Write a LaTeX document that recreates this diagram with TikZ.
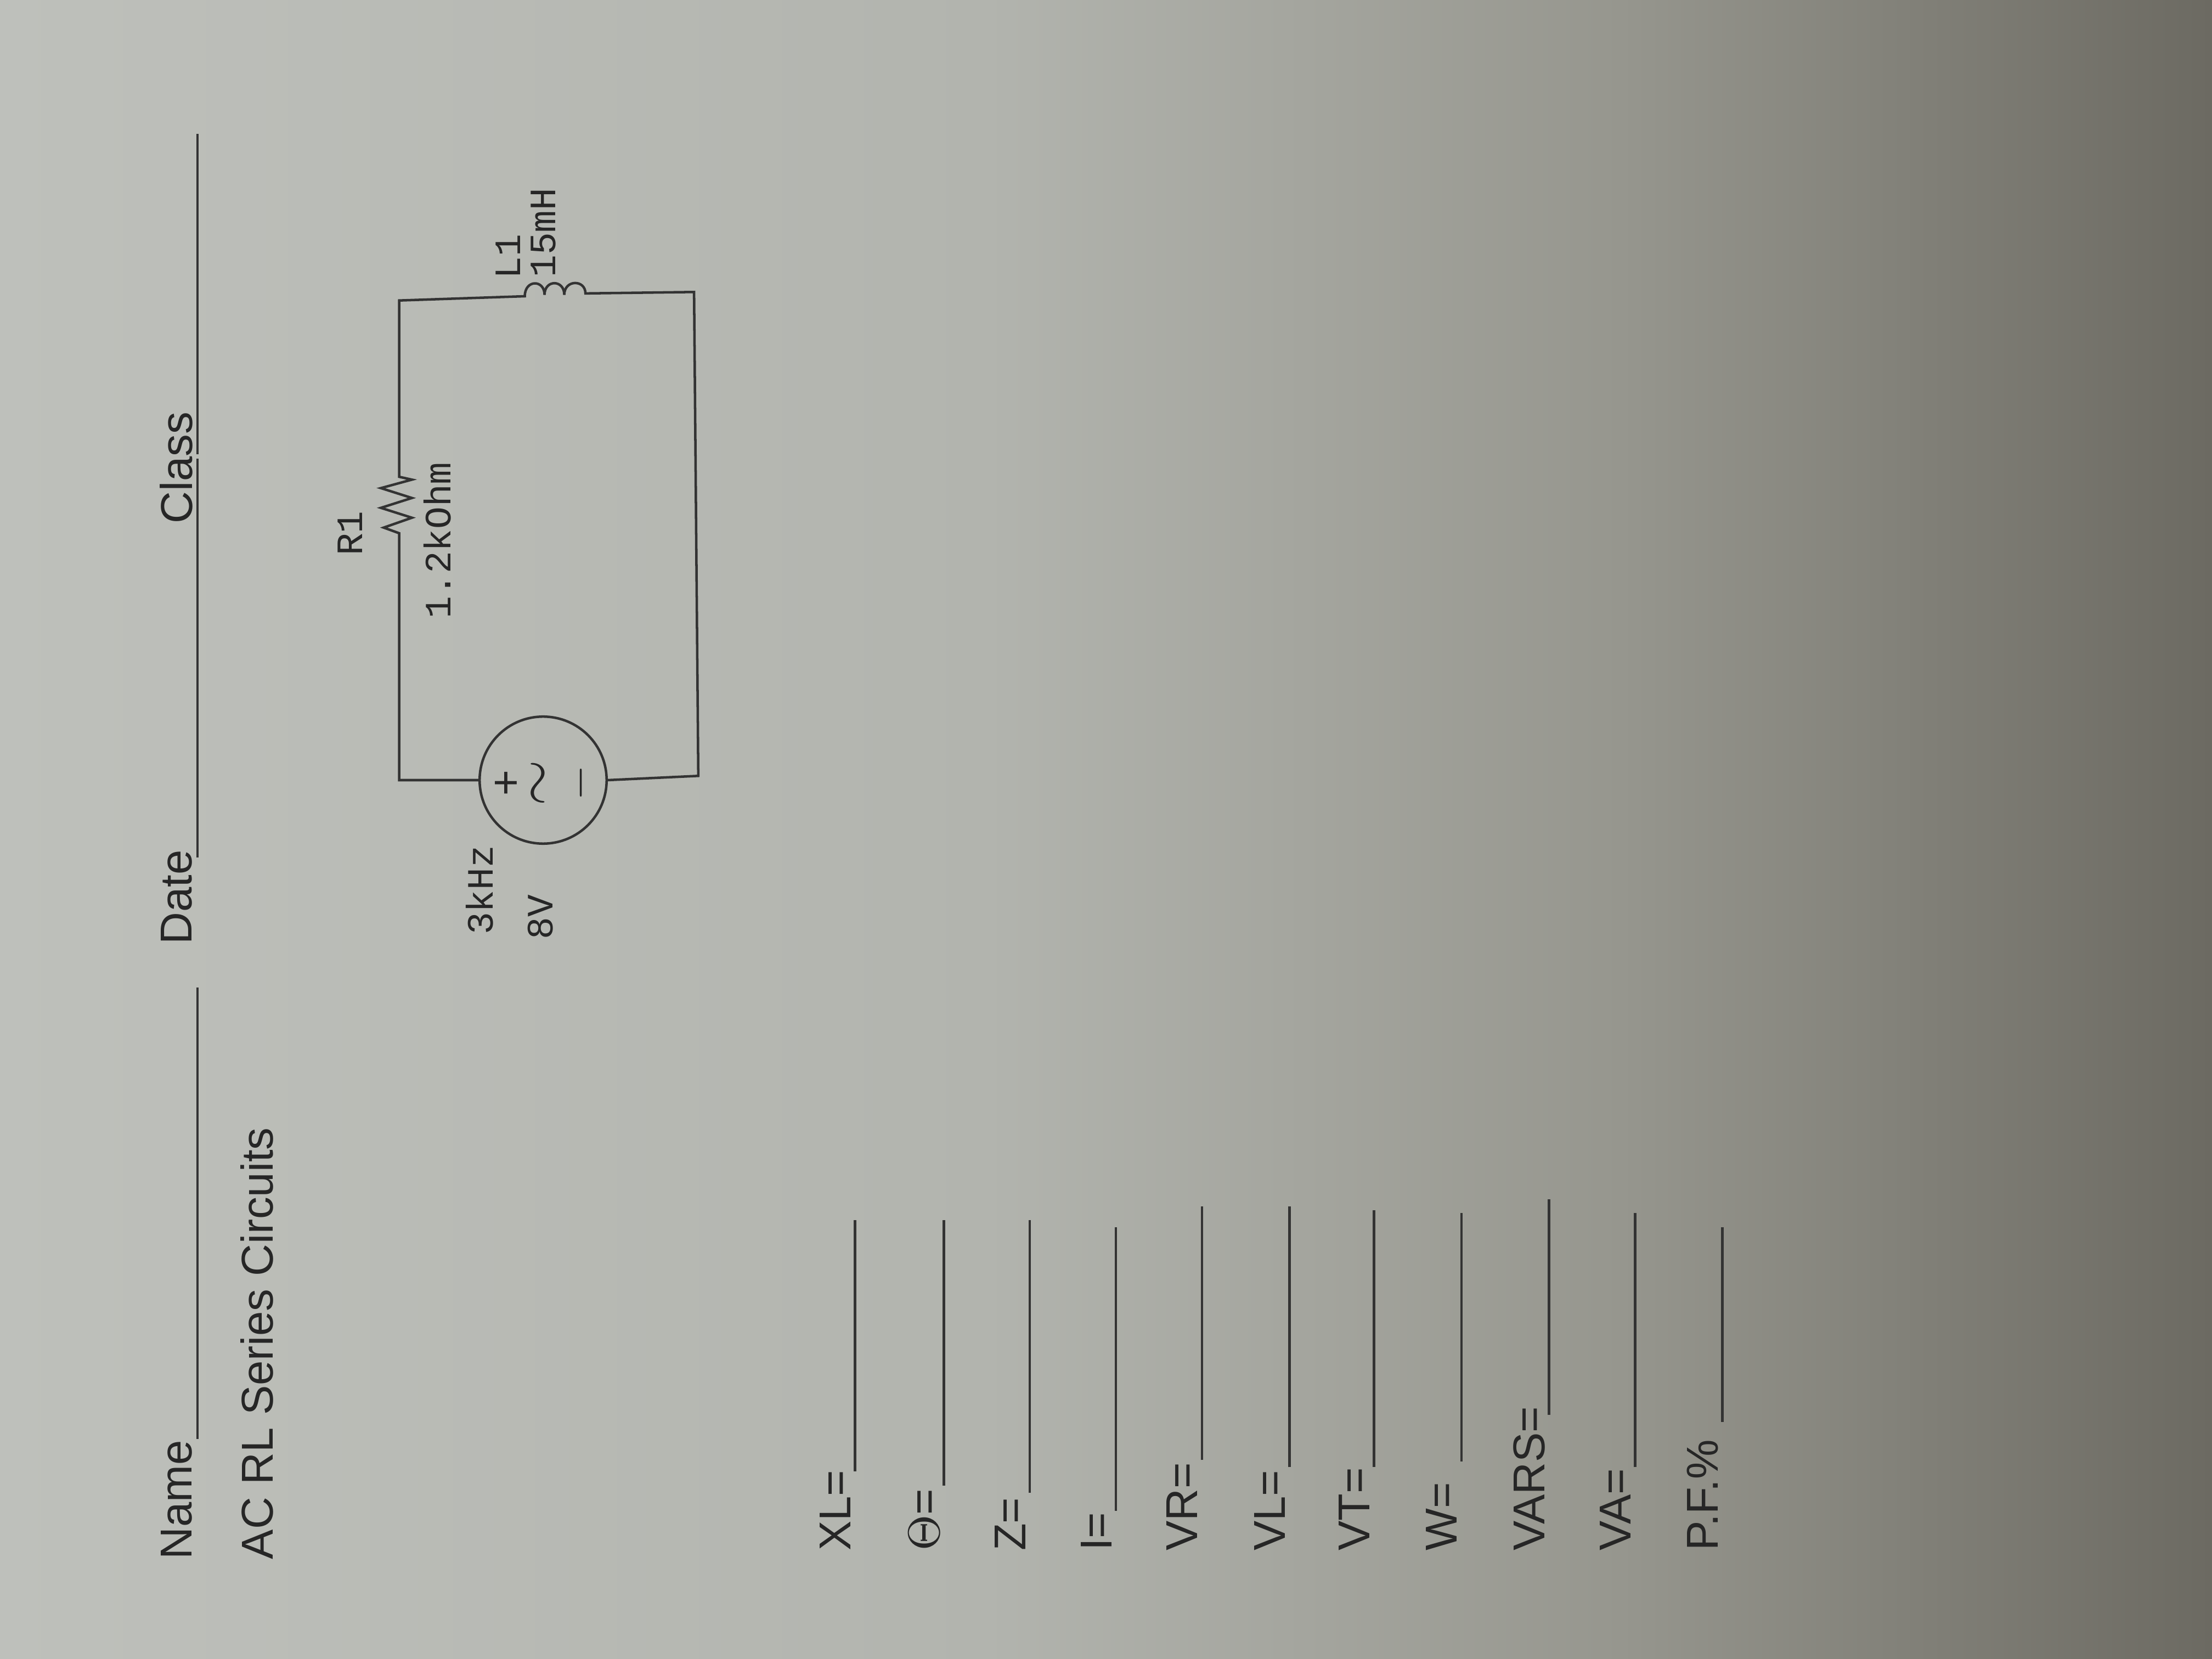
\documentclass[tikz,border=0pt]{standalone}
\usepackage{fontspec}
\setmainfont{Liberation Sans}
\newfontfamily\monof{Liberation Mono}
\definecolor{c1}{RGB}{190,192,187}
\definecolor{c2}{RGB}{178,180,174}
\definecolor{c3}{RGB}{150,150,142}
\definecolor{c4}{RGB}{108,106,98}
\begin{document}
\begin{tikzpicture}[x=0.01cm,y=-0.01cm,
  lbl/.style={rotate=90,anchor=west,inner sep=0pt,font=\fontsize{9}{9}\selectfont,text=black!85},
  cl/.style={rotate=90,inner sep=0pt,font=\monof\fontsize{7.5}{7.5}\selectfont,text=black!85},
  wire/.style={line width=0.5pt,black!80},
  uline/.style={line width=0.5pt,black!80}]
\useasboundingbox (0,0) rectangle (1568,1176);
\shade[left color=c1, right color=c2] (0,0) rectangle (700,1176);
\shade[left color=c2, right color=c3] (699,0) rectangle (1150,1176);
\shade[left color=c3, right color=c4] (1149,0) rectangle (1568,1176);
% header
\node[lbl] (name) at (125,1106) {Name};
\draw[uline] (140,1020) -- (140,700);
\node[lbl] (date) at (125,670) {Date};
\draw[uline] (140,608) -- (140,325);
\node[lbl] (class) at (125,372) {Class};
\draw[uline] (140,322) -- (140,95);
\node[lbl] (title) at (182,1106) {AC RL Series Circuits};
% circuit
\coordinate (tl) at (283,553); \coordinate (rt) at (283,378); \coordinate (rb) at (283,338);
\coordinate (ul) at (283,213); \coordinate (li) at (372,210); \coordinate (lo) at (415,208);
\coordinate (ur) at (492,207); \coordinate (br) at (495,550);
\node[circle,draw,black!80,line width=0.5pt,minimum size=0.9cm,inner sep=0pt] (src) at (385,553) {};
\draw[wire] (src.west) -- (tl) -- (rt) -- (272,374) -- (292,367) -- (270,360) -- (292,353) -- (270,346) -- (292,340) -- (rb) -- (ul) -- (li)
  .. controls (372,198) and (386,198) .. (386,209)
  .. controls (386,198) and (400,198) .. (400,209)
  .. controls (400,198) and (415,198) .. (lo)
  -- (ur) -- (br) -- (src.east);
\node[cl,font=\monof\fontsize{9}{9}\selectfont] (p) at (360,555) {+};
\node[cl,font=\fontsize{12}{12}\selectfont] (t) at (384,555) {$\sim$};
\node[cl,font=\monof\fontsize{9}{9}\selectfont] (m) at (412,555) {$-$};
\node[cl] (r1) at (248,378) {R1};
\node[cl] (rv) at (310,383) {1.2kOhm};
\node[cl] (l1) at (360,182) {L1};
\node[cl] (lv) at (385,165) {15mH};
\node[cl] (f) at (340,631) {3kHz};
\node[cl] (v) at (383,650) {8V};
% answers
\foreach \lab/\x/\ys/\ye [count=\i] in {XL=/592/1043/865, {$\Theta$=}/655/1053/865, Z=/716/1058/865, I=/777/1071/870, VR=/838/1035/855, VL=/900/1040/855, VT=/960/1040/858, W=/1022/1036/860, VARS=/1084/1003/850, VA=/1145/1040/860, P.F.\%/1207/1008/870}{
  \node[lbl] (a\i) at (\x,1100) {\lab};
  \draw[uline] (\x+14,\ys) -- (\x+14,\ye);
}
\end{tikzpicture}
\end{document}
